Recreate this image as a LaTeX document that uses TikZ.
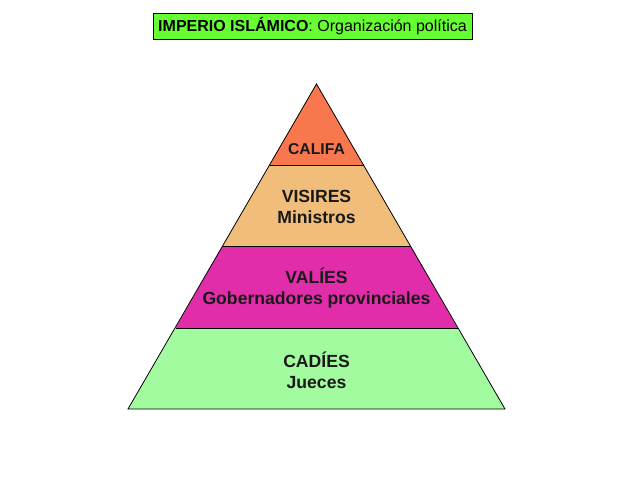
\documentclass[tikz,border=0pt]{standalone}
\usepackage{fontspec}
\setmainfont{Liberation Sans}
\definecolor{califa}{HTML}{F9774F}
\definecolor{visires}{HTML}{F0BE7A}
\definecolor{valies}{HTML}{E22DAA}
\definecolor{cadies}{HTML}{A3FBA0}
\definecolor{titlegreen}{HTML}{66FF33}
\begin{document}
\begin{tikzpicture}[x=1pt,y=-1pt,
  layer/.style={draw=black,line width=0.8pt,line join=miter},
  lbl/.style={font=\bfseries\fontsize{17.6}{21}\selectfont,align=center,text=black!90}]
\useasboundingbox (0,0) rectangle (638,479);
\coordinate (apex) at (316.5,84);
\coordinate (l1) at (269.5,165); \coordinate (r1) at (363.5,165);
\coordinate (l2) at (222.5,246); \coordinate (r2) at (410.5,246);
\coordinate (l3) at (175.5,328); \coordinate (r3) at (457.5,328);
\coordinate (l4) at (128,409);   \coordinate (r4) at (505,409);
\fill[califa] (apex) -- (r1) -- (l1) -- cycle;
\fill[visires] (l1) -- (r1) -- (r2) -- (l2) -- cycle;
\fill[valies] (l2) -- (r2) -- (r3) -- (l3) -- cycle;
\fill[cadies] (l3) -- (r3) -- (r4) -- (l4) -- cycle;
\draw[layer] (apex) -- (r4) -- (l4) -- cycle;
\draw[layer] (l1) -- (r1);
\draw[layer] (l2) -- (r2);
\draw[layer] (l3) -- (r3);
\node[lbl,font=\bfseries\fontsize{15.7}{18}\selectfont] (califa) at (316.5,149) {CALIFA};
\node[lbl] (visires) at (316.5,207) {VISIRES\\Ministros};
\node[lbl] (valies) at (316.5,288) {VALÍES\\Gobernadores provinciales};
\node[lbl] (cadies) at (316.5,370) {CADÍES\\Jueces};
\node[draw=black,line width=0.8pt,fill=titlegreen,minimum width=319pt,minimum height=26pt,inner sep=0pt,font=\fontsize{16}{19}\selectfont] (title) at (312.5,26) {\textbf{IMPERIO ISLÁMICO}: Organización política};
\end{tikzpicture}
\end{document}
